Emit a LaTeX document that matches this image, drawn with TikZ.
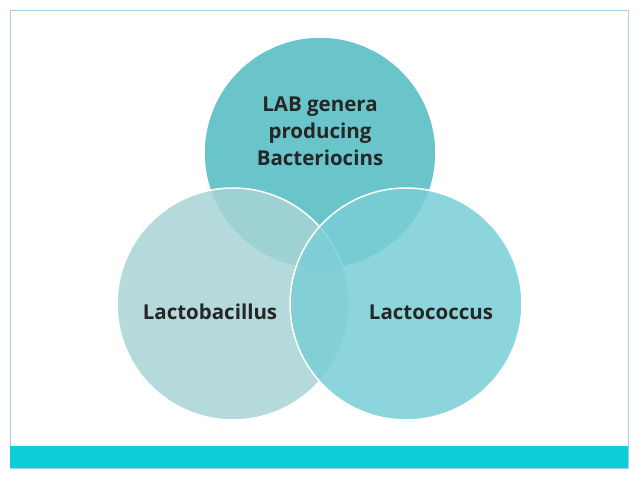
\documentclass[tikz,border=0pt]{standalone}
\usepackage{fontspec}
\setmainfont{Open Sans}
\begin{document}
\begin{tikzpicture}[x=1pt,y=-1pt,
  circ/.style={circle,minimum size=232pt,inner sep=0pt,draw=white,line width=1.5pt,fill opacity=0.85},
  lbl/.style={font=\fontsize{20.5}{27}\selectfont\bfseries,text=black!85,align=center}]
\useasboundingbox (0,0) rectangle (638,478);
\fill[white] (0,0) rectangle (638,478);
\draw[color=cyan!50!teal!40,line width=0.8pt] (10,10) rectangle (628,468);
\fill[color={rgb,255:red,13;green,206;blue,216}] (10,446) rectangle (628,468);
\node[circ,fill={rgb,255:red,80;green,188;blue,194}] (top) at (320,153) {};
\node[circ,fill={rgb,255:red,168;green,212;blue,214}] (left) at (233,304) {};
\node[circ,fill={rgb,255:red,122;green,206;blue,214}] (right) at (406,304) {};
\node[lbl] (tt) at (320,131) {LAB genera\\producing\\Bacteriocins};
\node[lbl] (lt) at (210,312) {Lactobacillus};
\node[lbl] (rt) at (431,312) {Lactococcus};
\end{tikzpicture}
\end{document}
